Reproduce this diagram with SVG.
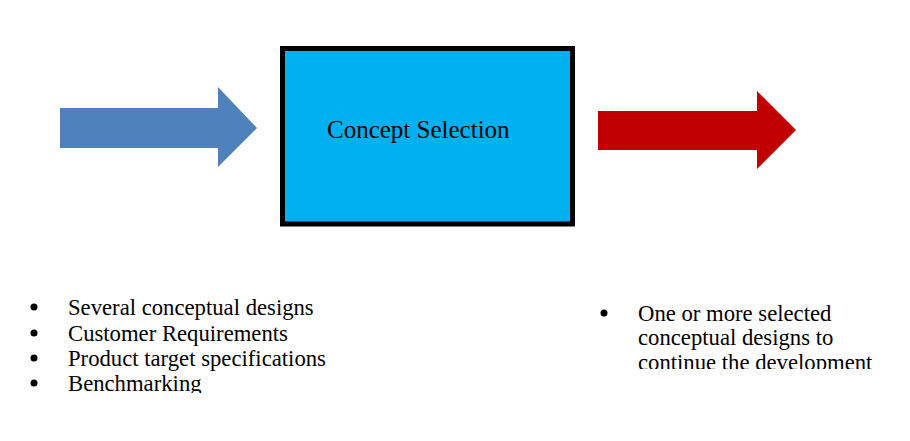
<svg xmlns="http://www.w3.org/2000/svg" width="910" height="441" viewBox="0 0 910 441">
<style>
.t{font-family:"Liberation Serif","Times New Roman",serif;fill:#000}
.li{font-size:22.7px}
</style>
<defs>
<clipPath id="cl"><rect x="0" y="280" width="400" height="113"/></clipPath>
<clipPath id="cr"><rect x="590" y="280" width="320" height="89"/></clipPath>
</defs>
<rect width="910" height="441" fill="#fff"/>
<g id="connectors">
<polygon id="arrow-in" points="60,108 218,108 218,87 257,128 218,167 218,148 60,148" fill="#4F81BD"/>
<polygon id="arrow-out" points="598,111 757,111 757,91 796,130 757,169 757,150 598,150" fill="#C00000"/>
</g>
<g id="concept-selection">
<rect x="282.5" y="48.5" width="290" height="175.5" fill="#00B0F0" stroke="#000" stroke-width="5"/>
<text class="t" x="327" y="138" font-size="25px">Concept Selection</text>
</g>
<g id="inputs" clip-path="url(#cl)">
<circle cx="34" cy="307" r="3.5"/>
<circle cx="34" cy="333" r="3.5"/>
<circle cx="34" cy="358" r="3.5"/>
<circle cx="34" cy="383" r="3.5"/>
<text class="t li" x="68" y="315">Several conceptual designs</text>
<text class="t li" x="68" y="341">Customer Requirements</text>
<text class="t li" x="68" y="366">Product target specifications</text>
<text class="t li" x="68" y="391">Benchmarking</text>
</g>
<g id="outputs" clip-path="url(#cr)">
<circle cx="604" cy="313" r="3.5"/>
<text class="t li" x="638" y="321">One or more selected</text>
<text class="t li" x="638" y="345">conceptual designs to</text>
<text class="t li" x="638" y="370">continue the development</text>
</g>
</svg>
